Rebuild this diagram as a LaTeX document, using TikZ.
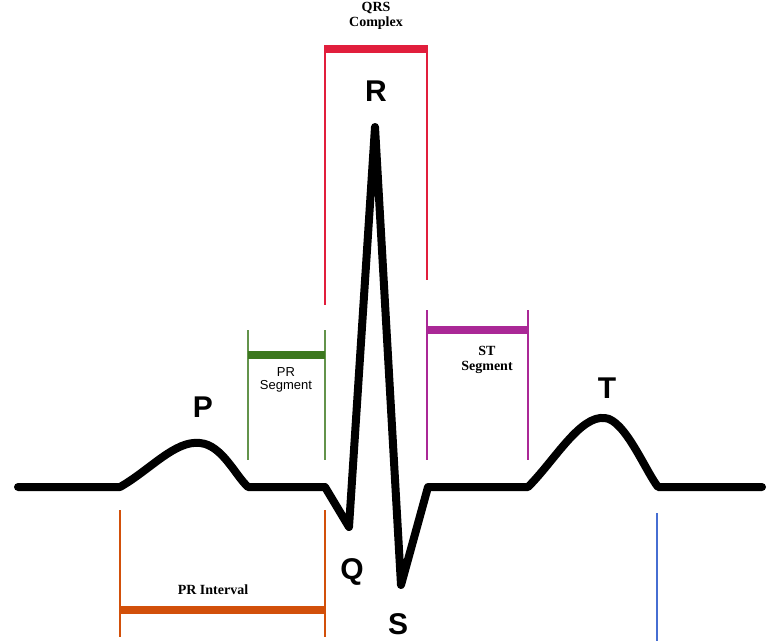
\documentclass[tikz,border=0pt]{standalone}
\usepackage{fontspec}
\setmainfont{Liberation Serif}
\setsansfont{Liberation Sans}
\begin{document}
\begin{tikzpicture}[x=1pt,y=-1pt,
  wavelbl/.style={font=\sffamily\bfseries\fontsize{30}{32}\selectfont},
  smallserif/.style={font=\bfseries\fontsize{14}{15}\selectfont,align=center},
  smallsans/.style={font=\sffamily\fontsize{13}{13}\selectfont,align=center}]
\useasboundingbox (0,0) rectangle (770,641);
\fill[white] (0,0) rectangle (770,641);
\definecolor{qrsred}{RGB}{225,30,60}
\definecolor{prgreen}{RGB}{60,120,30}
\definecolor{stpurple}{RGB}{170,40,150}
\definecolor{prorange}{RGB}{210,80,10}
\definecolor{tblue}{RGB}{70,110,210}
% guide lines
\draw[qrsred,line width=1.3pt] (325,45) -- (325,305) (427,45) -- (427,280);
\draw[qrsred,line width=8pt] (325,49) -- (427,49);
\draw[prgreen!80,line width=1.3pt] (248,330) -- (248,460) (325,330) -- (325,460);
\draw[prgreen,line width=8pt] (248,355) -- (325,355);
\draw[stpurple,line width=1.3pt] (427,310) -- (427,460) (528,310) -- (528,460);
\draw[stpurple,line width=8pt] (427,330) -- (528,330);
\draw[prorange,line width=1.3pt] (120,510) -- (120,637) (325,510) -- (325,637);
\draw[prorange,line width=8pt] (120,610) -- (325,610);
\draw[tblue,line width=1.3pt] (657,513) -- (657,641);
% waveform
\draw[line width=8pt,line join=round,line cap=round]
 (18,487) -- (120,487) .. controls (150,470) and (175,440) .. (200,443)
 .. controls (222,445) and (235,475) .. (248,487) -- (325,487)
 -- (349,527) -- (375,127) -- (401,585) -- (428,487) -- (528,487)
 .. controls (555,460) and (580,415) .. (605,418)
 .. controls (625,420) and (645,470) .. (658,487) -- (762,487);
% labels
\node[wavelbl] (p) at (203,407) {P};
\node[wavelbl] (r) at (376,91) {R};
\node[wavelbl] (q) at (352,572) {Q};
\node[wavelbl] (s) at (398,624) {S};
\node[wavelbl] (t) at (607,388) {T};
\node[smallserif] (qrs) at (376,16) {QRS\\Complex};
\node[smallsans] (prs) at (286,380) {PR\\Segment};
\node[smallserif] (st) at (487,360) {ST\\Segment};
\node[smallserif] (pri) at (213,590) {PR Interval};
\end{tikzpicture}
\end{document}
